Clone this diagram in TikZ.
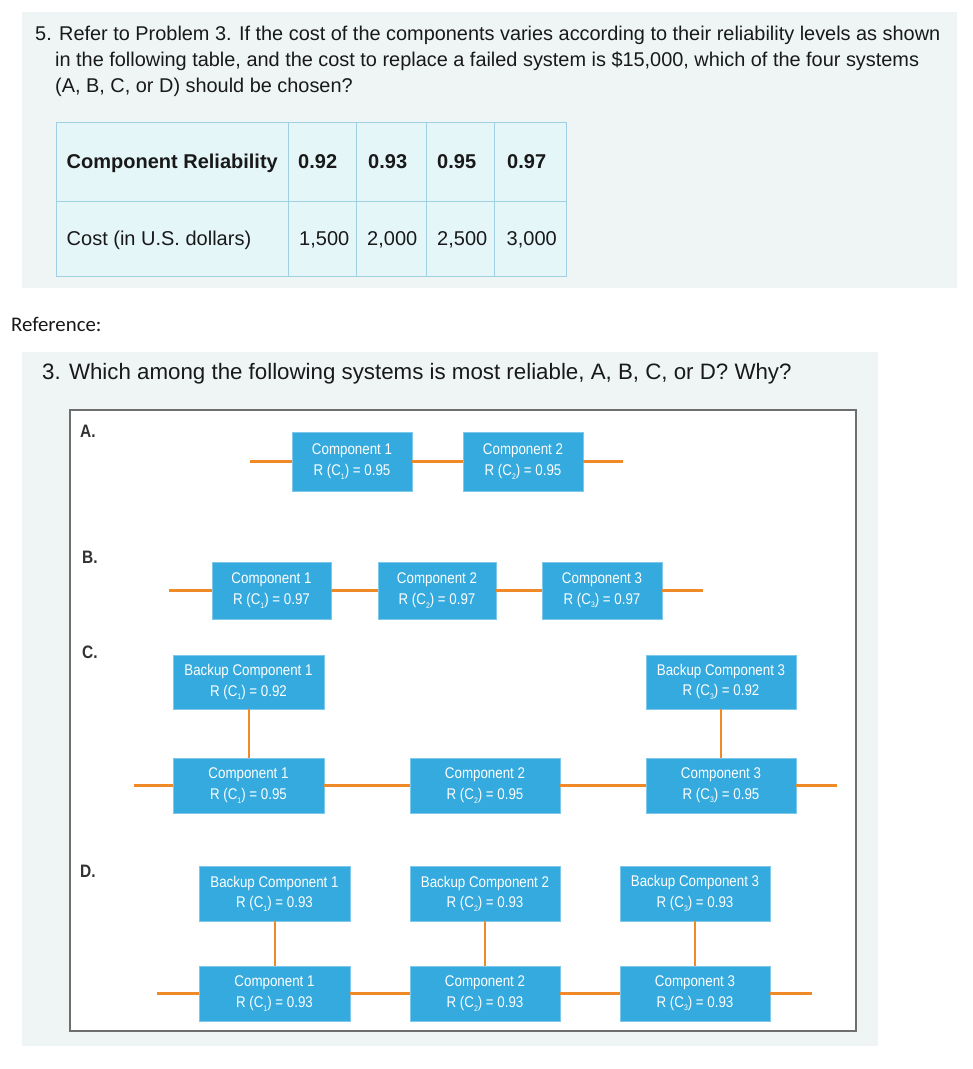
\documentclass[tikz,border=0pt]{standalone}
\usepackage{fontspec}
\setmainfont{Liberation Sans}
\newfontfamily\calib{Carlito}
\newfontfamily\condf[FakeStretch=0.86]{Liberation Sans}
\definecolor{panelbg}{RGB}{239,245,245}
\definecolor{cellbg}{RGB}{229,246,249}
\definecolor{cellline}{RGB}{160,208,226}
\definecolor{compblue}{RGB}{52,170,222}
\definecolor{compedge}{RGB}{125,200,235}
\definecolor{wireorange}{RGB}{240,138,40}
\definecolor{framegray}{RGB}{110,110,110}
\definecolor{labelgray}{RGB}{50,50,50}
\definecolor{txt}{RGB}{25,25,25}
\newcommand\sbx[1]{\raisebox{-0.45ex}{\fontsize{8}{8}\selectfont #1}}
\begin{document}
\begin{tikzpicture}[x=1pt,y=-1pt,
  comp/.style={rectangle, fill=compblue, draw=compedge, line width=0.8pt, text=white,
    font=\condf\fontsize{15.5}{20.5}\selectfont, align=center, inner sep=0pt},
  wire/.style={draw=wireorange, line width=3pt},
  vwire/.style={draw=wireorange, line width=2pt},
  lbl/.style={anchor=base west, inner sep=0pt, font=\condf\bfseries\fontsize{18}{18}\selectfont, text=labelgray},
  qtext/.style={anchor=base west, inner sep=0pt, text=txt, font=\fontsize{19.9}{22}\selectfont},
  ttext/.style={anchor=base west, inner sep=0pt, text=txt, font=\fontsize{20}{22}\selectfont},
  tbold/.style={ttext, font=\bfseries\fontsize{20}{22}\selectfont}
]
\useasboundingbox[fill=white] (0,0) rectangle (973,1069);

% ---------- top panel ----------
\fill[panelbg] (22,12) rectangle (957,288);
\node[qtext] (q1) at (35,40) {5. Refer to Problem 3. If the cost of the components varies according to their reliability levels as shown};
\node[qtext] (q2) at (55,66.5) {in the following table, and the cost to replace a failed system is \$15,000, which of the four systems};
\node[qtext] (q3) at (55,92.5) {(A, B, C, or D) should be chosen?};

% table
\fill[cellbg] (56,122) rectangle (566,276);
\draw[cellline, line width=1pt] (56,122) rectangle (566,276);
\draw[cellline, line width=1pt] (56,201) -- (566,201);
\foreach \cx in {288,356,426,494} \draw[cellline, line width=1pt] (\cx,122) -- (\cx,276);
\node[tbold] (h0) at (66.5,168) {Component Reliability};
\node[tbold] (h1) at (298,168) {0.92};
\node[tbold] (h2) at (368,168) {0.93};
\node[tbold] (h3) at (437,168) {0.95};
\node[tbold] (h4) at (507,168) {0.97};
\node[ttext] (r0) at (66.5,245) {Cost (in U.S. dollars)};
\node[ttext] (r1) at (299,245) {1,500};
\node[ttext] (r2) at (367,245) {2,000};
\node[ttext] (r3) at (437,245) {2,500};
\node[ttext] (r4) at (506.5,245) {3,000};

% ---------- reference ----------
\node[anchor=base west, inner sep=0pt, text=txt, font=\calib\fontsize{20.8}{24}\selectfont] (ref) at (11,331.5) {Reference:};

\fill[panelbg] (22,352) rectangle (878,1046);
\node[anchor=base west, inner sep=0pt, text=txt, font=\fontsize{22.3}{25}\selectfont] (title) at (42,379.5) {3. Which among the following systems is most reliable, A, B, C, or D? Why?};

\draw[framegray, fill=white, line width=1.6pt] (70,410) rectangle (856,1031);

% ---------- A ----------
\node[lbl] (la) at (80,437) {A.};
\node[comp, minimum width=120, minimum height=59] (A1) at (352,461.5) {Component 1\\R (C\sbx{1}) = 0.95};
\node[comp, minimum width=120, minimum height=59] (A2) at (523,461.5) {Component 2\\R (C\sbx{2}) = 0.95};
\coordinate (aL) at (250,461.5);
\coordinate (aR) at (623,461.5);
\draw[wire] (aL) -- (A1) (A1) -- (A2) (A2) -- (aR);

% ---------- B ----------
\node[lbl] (lb) at (82,563) {B.};
\node[comp, minimum width=119, minimum height=57] (B1) at (271.5,590.5) {Component 1\\R (C\sbx{1}) = 0.97};
\node[comp, minimum width=118, minimum height=57] (B2) at (437,590.5) {Component 2\\R (C\sbx{2}) = 0.97};
\node[comp, minimum width=120, minimum height=57] (B3) at (602,590.5) {Component 3\\R (C\sbx{3}) = 0.97};
\coordinate (bL) at (169,590.5);
\coordinate (bR) at (703,590.5);
\draw[wire] (bL) -- (B1) (B1) -- (B2) (B2) -- (B3) (B3) -- (bR);

% ---------- C ----------
\node[lbl] (lc) at (82,658) {C.};
\node[comp, minimum width=151, minimum height=54] (Cb1) at (248.5,682) {Backup Component 1\\R (C\sbx{1}) = 0.92};
\node[comp, minimum width=150, minimum height=54] (Cb3) at (721,682) {Backup Component 3\\R (C\sbx{3}) = 0.92};
\node[comp, minimum width=151, minimum height=55] (C1) at (248.5,785.5) {Component 1\\R (C\sbx{1}) = 0.95};
\node[comp, minimum width=150, minimum height=55] (C2) at (485,785.5) {Component 2\\R (C\sbx{2}) = 0.95};
\node[comp, minimum width=150, minimum height=55] (C3) at (721,785.5) {Component 3\\R (C\sbx{3}) = 0.95};
\coordinate (cL) at (134,785.5);
\coordinate (cR) at (837,785.5);
\draw[wire] (cL) -- (C1) (C1) -- (C2) (C2) -- (C3) (C3) -- (cR);
\draw[vwire] (Cb1) -- (C1);
\draw[vwire] (Cb3) -- (C3);

% ---------- D ----------
\node[lbl] (ld) at (80,877) {D.};
\node[comp, minimum width=151, minimum height=55] (Db1) at (274.5,893.5) {Backup Component 1\\R (C\sbx{1}) = 0.93};
\node[comp, minimum width=150, minimum height=55] (Db2) at (485,893.5) {Backup Component 2\\R (C\sbx{2}) = 0.93};
\node[comp, minimum width=150, minimum height=55] (Db3) at (695,893.5) {Backup Component 3\\R (C\sbx{3}) = 0.93};
\node[comp, minimum width=151, minimum height=55] (D1) at (274.5,993.5) {Component 1\\R (C\sbx{1}) = 0.93};
\node[comp, minimum width=150, minimum height=55] (D2) at (485,993.5) {Component 2\\R (C\sbx{2}) = 0.93};
\node[comp, minimum width=150, minimum height=55] (D3) at (695,993.5) {Component 3\\R (C\sbx{3}) = 0.93};
\coordinate (dL) at (157,993.5);
\coordinate (dR) at (812,993.5);
\draw[wire] (dL) -- (D1) (D1) -- (D2) (D2) -- (D3) (D3) -- (dR);
\draw[vwire] (Db1) -- (D1);
\draw[vwire] (Db2) -- (D2);
\draw[vwire] (Db3) -- (D3);
\end{tikzpicture}
\end{document}
